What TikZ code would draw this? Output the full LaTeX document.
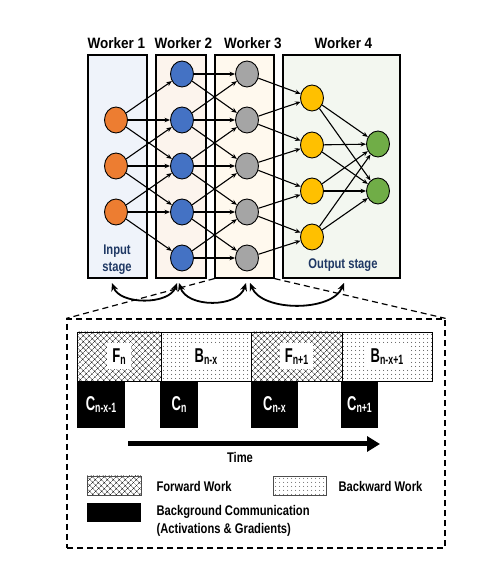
\documentclass[tikz,border=0pt]{standalone}
\usepackage{fontspec}
\setmainfont[FakeStretch=0.8]{Liberation Sans Bold}
\newfontfamily\workerfont[FakeStretch=0.9]{Liberation Sans Bold}
\newfontfamily\tallfont[FakeStretch=0.65]{Liberation Sans Bold}
\usetikzlibrary{shapes.geometric, arrows.meta, patterns.meta, positioning}

\definecolor{wone}{RGB}{239,243,250}
\definecolor{wtwo}{RGB}{252,244,237}
\definecolor{wthree}{RGB}{255,249,238}
\definecolor{wfour}{RGB}{243,247,240}
\definecolor{nodeorange}{RGB}{237,125,49}
\definecolor{nodeblue}{RGB}{68,114,196}
\definecolor{nodegray}{RGB}{165,165,165}
\definecolor{nodeyellow}{RGB}{255,192,0}
\definecolor{nodegreen}{RGB}{112,173,71}
\definecolor{navy}{RGB}{31,56,100}

\newcommand{\blk}[2]{{\tallfont\fontsize{20}{21}\selectfont #1}\raisebox{-2pt}{\tallfont\fontsize{13.5}{14}\selectfont #2}}

\tikzset{
  x=1pt, y=1pt,
  neuron/.style={ellipse, draw, line width=0.9pt, minimum width=23pt, minimum height=26pt, inner sep=0pt},
  worker/.style={draw, line width=1.2pt, minimum height=223pt, inner sep=0pt},
  workerlabel/.style={font=\workerfont\fontsize{15}{18}\selectfont},
  stagelabel/.style={font=\fontsize{14}{17}\selectfont, text=navy, align=center},
  link/.style={line width=1.1pt, -{Stealth[length=5.5pt,width=4.5pt]}},
  hop/.style={line width=1.8pt, {Stealth[length=8pt,width=7pt]}-{Stealth[length=8pt,width=7pt]}},
  zoomline/.style={line width=1.2pt, dash pattern=on 6pt off 4pt},
  fwd/.style={draw, line width=0.8pt, pattern={Hatch[angle=45,distance=4pt,line width=0.4pt]}, minimum height=49pt, inner sep=0pt},
  bwd/.style={draw, line width=0.8pt, pattern={Dots[distance=4pt,radius=0.5pt]}, minimum height=49pt, inner sep=0pt},
  comm/.style={fill=black, text=white, minimum height=47pt, inner sep=0pt},
  tag/.style={fill=white, inner xsep=5pt, minimum height=26pt},
  legendtext/.style={anchor=west, font=\fontsize{14}{18}\selectfont, align=left},
}

\begin{document}
\begin{tikzpicture}
  \useasboundingbox (0,0) rectangle (486,566);

  % workers
  \node[worker, fill=wone, minimum width=59pt] (w1) at (117.5,399.5) {};
  \node[worker, fill=wtwo, minimum width=50pt] (w2) at (181,399.5) {};
  \node[worker, fill=wthree, minimum width=59pt] (w3) at (244.5,399.5) {};
  \node[worker, fill=wfour, minimum width=117pt] (w4) at (341.5,399.5) {};

  \node[workerlabel] (l1) at (116.5,523) {Worker 1};
  \node[workerlabel] (l2) at (183.5,523) {Worker 2};
  \node[workerlabel] (l3) at (253,523) {Worker 3};
  \node[workerlabel] (l4) at (343.5,523) {Worker 4};

  \node[stagelabel] (in) at (117,306.5) {Input\\stage};
  \node[stagelabel] (out) at (343,301) {Output stage};

  % neurons
  \foreach \n/\y in {1/446,2/400,3/354}
    \node[neuron, fill=nodeorange] (o\n) at (116,\y) {};
  \foreach \n/\y in {1/492,2/446,3/400,4/354,5/308} {
    \node[neuron, fill=nodeblue] (b\n) at (182,\y) {};
    \node[neuron, fill=nodegray] (g\n) at (247,\y) {};
  }
  \foreach \n/\y in {1/468,2/421,3/375,4/329}
    \node[neuron, fill=nodeyellow] (y\n) at (312,\y) {};
  \foreach \n/\y in {1/422,2/375}
    \node[neuron, fill=nodegreen] (z\n) at (378,\y) {};

  % links
  \foreach \a/\b in {1/1,1/2,1/3,2/2,2/3,2/4,3/3,3/4,3/5}
    \draw[link] (o\a) -- (b\b);
  \foreach \a/\b in {1/1,1/2,2/1,2/2,2/3,3/2,3/3,3/4,4/3,4/4,4/5,5/4,5/5}
    \draw[link] (b\a) -- (g\b);
  \foreach \a/\b in {1/1,2/1,2/2,3/2,3/3,4/3,4/4,5/4}
    \draw[link] (g\a) -- (y\b);
  \foreach \a in {1,...,4}
    \foreach \b in {1,2}
      \draw[link] (y\a) -- (z\b);

  % zoom box
  \node[zoomline, draw, minimum width=378pt, minimum height=229pt] (zoom) at (256,132.5) {};
  \draw[zoomline] (w3.south west) -- (zoom.north west);
  \draw[zoomline] (w3.south east) -- (zoom.north east);

  % hand-offs between workers
  \coordinate (s1) at (112,283);
  \coordinate (s2) at (177,283);
  \coordinate (s3) at (179,283);
  \coordinate (s4) at (246,283);
  \coordinate (s5) at (250,283);
  \coordinate (s6) at (344,283);
  \draw[hop] (s1) .. controls +(8,-22) and +(-8,-22) .. (s2);
  \draw[hop] (s3) .. controls +(8,-25) and +(-8,-25) .. (s4);
  \draw[hop] (s5) .. controls +(12,-29) and +(-12,-29) .. (s6);

  % work blocks
  \node[fwd, minimum width=84pt] (f1) at (119,209.5) {};
  \node[bwd, minimum width=90pt] (k1) at (206,209.5) {};
  \node[fwd, minimum width=91pt] (f2) at (296.5,209.5) {};
  \node[bwd, minimum width=90pt] (k2) at (387,209.5) {};
  \node[tag] at (f1) {\blk{F}{n}};
  \node[tag] at (k1) {\blk{B}{n-x}};
  \node[tag] at (f2) {\blk{F}{n+1}};
  \node[tag] at (k2) {\blk{B}{n-x+1}};

  % communication
  \node[comm, minimum width=48pt] (c1) at (101,161.5) {\blk{C}{n-x-1}};
  \node[comm, minimum width=38pt] (c2) at (179,161.5) {\blk{C}{n}};
  \node[comm, minimum width=47pt] (c3) at (274.5,161.5) {\blk{C}{n-x}};
  \node[comm, minimum width=37pt] (c4) at (359.5,161.5) {\blk{C}{n+1}};

  % time
  \coordinate (t0) at (128,122);
  \coordinate (t1) at (380,122);
  \draw[line width=5pt, -{Triangle[length=13pt,width=15pt]}] (t0) -- (t1);
  \node[font=\fontsize{14}{17}\selectfont] (time) at (240,109) {Time};

  % legend
  \node[fwd, draw=black!70, minimum width=54pt, minimum height=19pt] (lf) at (114,80.5) {};
  \node[legendtext] (lft) at (153,80) {Forward Work};
  \node[bwd, draw=black!70, minimum width=53pt, minimum height=19pt] (lb) at (299.5,80.5) {};
  \node[legendtext] (lbt) at (335,80) {Backward Work};
  \node[fill=black, minimum width=54pt, minimum height=19pt, inner sep=0pt] (lc) at (114,53.5) {};
  \node[legendtext] (lct) at (153,45) {Background Communication\\(Activations \& Gradients)};
\end{tikzpicture}
\end{document}
